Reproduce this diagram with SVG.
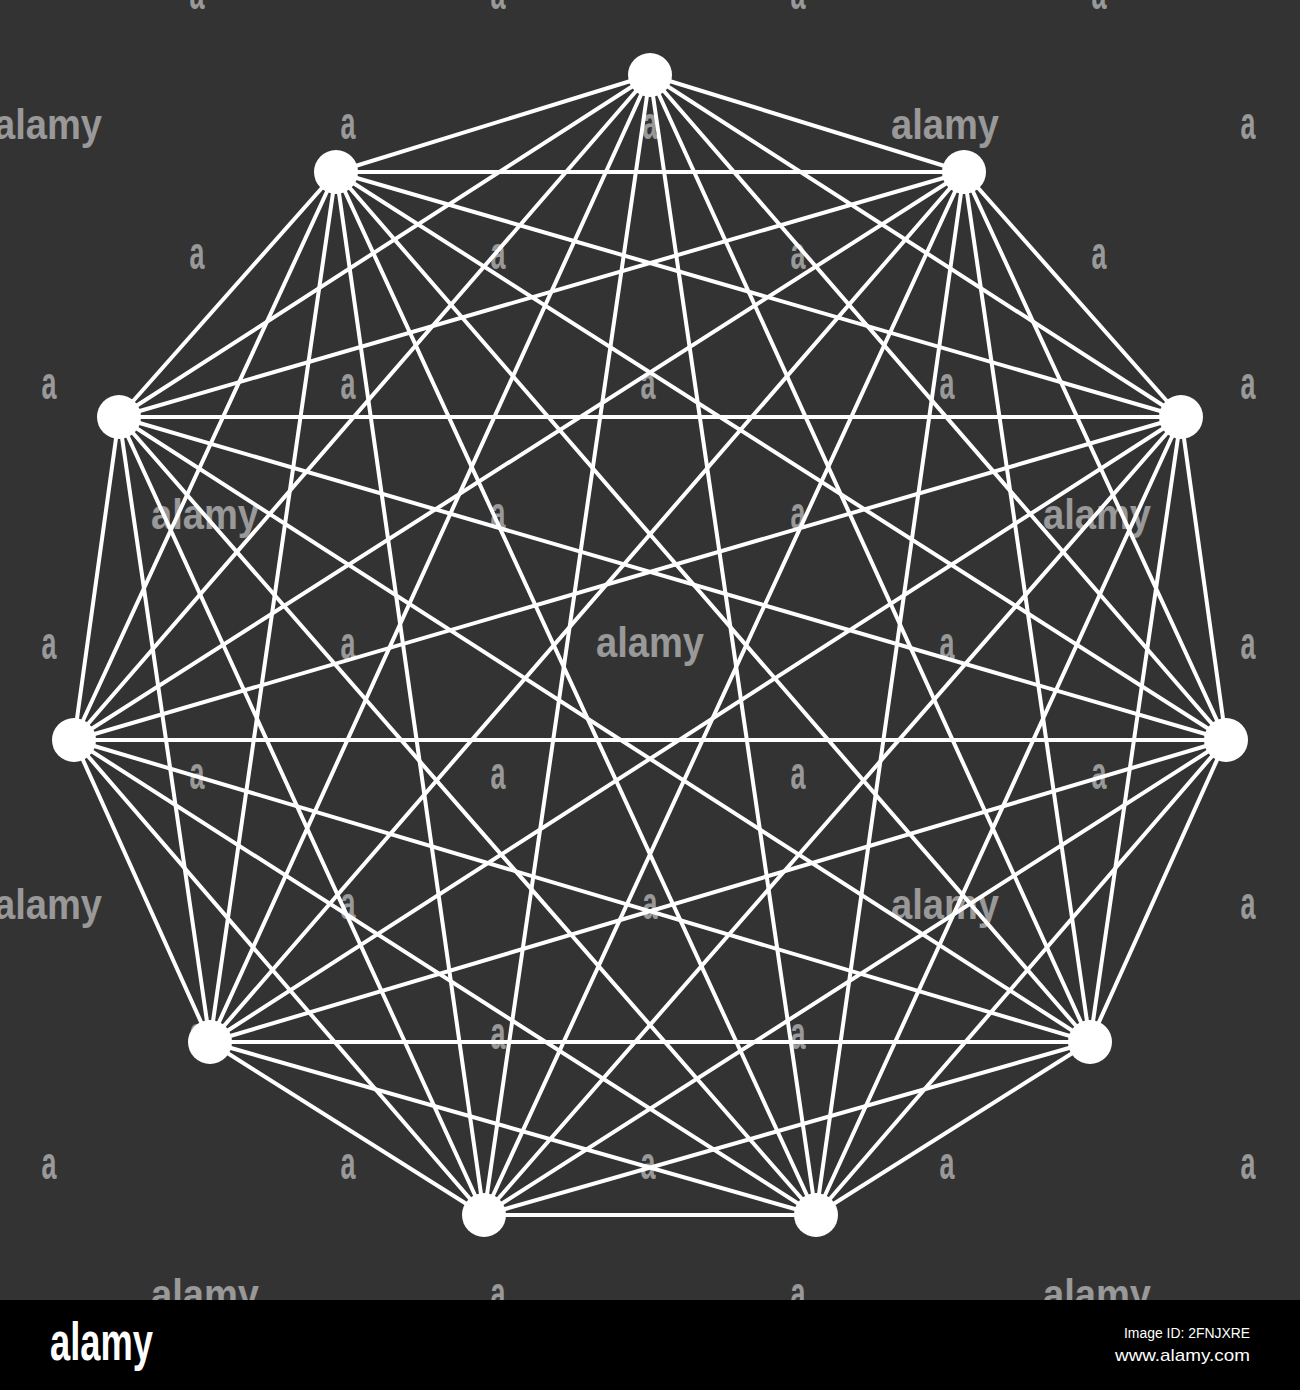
<svg xmlns="http://www.w3.org/2000/svg" width="1300" height="1390" viewBox="0 0 1300 1390">
<style>
.e{stroke:#fff;stroke-width:4;stroke-linecap:round}
.n{fill:#fff}
.w{fill:#fff;fill-opacity:.5;font-family:"Liberation Sans",Arial,sans-serif;font-weight:bold;text-anchor:middle}
.wa{font-size:46px}
.wl{font-size:42px}
.b{fill:#fff;font-family:"Liberation Sans",Arial,sans-serif}
</style>
<rect x="0" y="0" width="1300" height="1390" fill="#333333"/>
<g id="connectors">
<line class="e" x1="650" y1="75" x2="964" y2="172"/>
<line class="e" x1="650" y1="75" x2="1181" y2="417"/>
<line class="e" x1="650" y1="75" x2="1226" y2="740"/>
<line class="e" x1="650" y1="75" x2="1090" y2="1042"/>
<line class="e" x1="650" y1="75" x2="816" y2="1215"/>
<line class="e" x1="650" y1="75" x2="484" y2="1215"/>
<line class="e" x1="650" y1="75" x2="210" y2="1042"/>
<line class="e" x1="650" y1="75" x2="74" y2="740"/>
<line class="e" x1="650" y1="75" x2="119" y2="417"/>
<line class="e" x1="650" y1="75" x2="336" y2="172"/>
<line class="e" x1="964" y1="172" x2="1181" y2="417"/>
<line class="e" x1="964" y1="172" x2="1226" y2="740"/>
<line class="e" x1="964" y1="172" x2="1090" y2="1042"/>
<line class="e" x1="964" y1="172" x2="816" y2="1215"/>
<line class="e" x1="964" y1="172" x2="484" y2="1215"/>
<line class="e" x1="964" y1="172" x2="210" y2="1042"/>
<line class="e" x1="964" y1="172" x2="74" y2="740"/>
<line class="e" x1="964" y1="172" x2="119" y2="417"/>
<line class="e" x1="964" y1="172" x2="336" y2="172"/>
<line class="e" x1="1181" y1="417" x2="1226" y2="740"/>
<line class="e" x1="1181" y1="417" x2="1090" y2="1042"/>
<line class="e" x1="1181" y1="417" x2="816" y2="1215"/>
<line class="e" x1="1181" y1="417" x2="484" y2="1215"/>
<line class="e" x1="1181" y1="417" x2="210" y2="1042"/>
<line class="e" x1="1181" y1="417" x2="74" y2="740"/>
<line class="e" x1="1181" y1="417" x2="119" y2="417"/>
<line class="e" x1="1181" y1="417" x2="336" y2="172"/>
<line class="e" x1="1226" y1="740" x2="1090" y2="1042"/>
<line class="e" x1="1226" y1="740" x2="816" y2="1215"/>
<line class="e" x1="1226" y1="740" x2="484" y2="1215"/>
<line class="e" x1="1226" y1="740" x2="210" y2="1042"/>
<line class="e" x1="1226" y1="740" x2="74" y2="740"/>
<line class="e" x1="1226" y1="740" x2="119" y2="417"/>
<line class="e" x1="1226" y1="740" x2="336" y2="172"/>
<line class="e" x1="1090" y1="1042" x2="816" y2="1215"/>
<line class="e" x1="1090" y1="1042" x2="484" y2="1215"/>
<line class="e" x1="1090" y1="1042" x2="210" y2="1042"/>
<line class="e" x1="1090" y1="1042" x2="74" y2="740"/>
<line class="e" x1="1090" y1="1042" x2="119" y2="417"/>
<line class="e" x1="1090" y1="1042" x2="336" y2="172"/>
<line class="e" x1="816" y1="1215" x2="484" y2="1215"/>
<line class="e" x1="816" y1="1215" x2="210" y2="1042"/>
<line class="e" x1="816" y1="1215" x2="74" y2="740"/>
<line class="e" x1="816" y1="1215" x2="119" y2="417"/>
<line class="e" x1="816" y1="1215" x2="336" y2="172"/>
<line class="e" x1="484" y1="1215" x2="210" y2="1042"/>
<line class="e" x1="484" y1="1215" x2="74" y2="740"/>
<line class="e" x1="484" y1="1215" x2="119" y2="417"/>
<line class="e" x1="484" y1="1215" x2="336" y2="172"/>
<line class="e" x1="210" y1="1042" x2="74" y2="740"/>
<line class="e" x1="210" y1="1042" x2="119" y2="417"/>
<line class="e" x1="210" y1="1042" x2="336" y2="172"/>
<line class="e" x1="74" y1="740" x2="119" y2="417"/>
<line class="e" x1="74" y1="740" x2="336" y2="172"/>
<line class="e" x1="119" y1="417" x2="336" y2="172"/>
</g>
<g id="node0"><circle class="n" cx="650" cy="75" r="22"/></g>
<g id="node1"><circle class="n" cx="964" cy="172" r="22"/></g>
<g id="node2"><circle class="n" cx="1181" cy="417" r="22"/></g>
<g id="node3"><circle class="n" cx="1226" cy="740" r="22"/></g>
<g id="node4"><circle class="n" cx="1090" cy="1042" r="22"/></g>
<g id="node5"><circle class="n" cx="816" cy="1215" r="22"/></g>
<g id="node6"><circle class="n" cx="484" cy="1215" r="22"/></g>
<g id="node7"><circle class="n" cx="210" cy="1042" r="22"/></g>
<g id="node8"><circle class="n" cx="74" cy="740" r="22"/></g>
<g id="node9"><circle class="n" cx="119" cy="417" r="22"/></g>
<g id="node10"><circle class="n" cx="336" cy="172" r="22"/></g>
<g id="watermark" class="w">
<text class="wa" x="197" y="9" textLength="15" lengthAdjust="spacingAndGlyphs">a</text>
<text class="wa" x="498" y="9" textLength="15" lengthAdjust="spacingAndGlyphs">a</text>
<text class="wa" x="798" y="9" textLength="15" lengthAdjust="spacingAndGlyphs">a</text>
<text class="wa" x="1099" y="9" textLength="15" lengthAdjust="spacingAndGlyphs">a</text>
<text class="wl" x="48" y="139" textLength="108" lengthAdjust="spacingAndGlyphs">alamy</text>
<text class="wa" x="348" y="139" textLength="15" lengthAdjust="spacingAndGlyphs">a</text>
<text class="wa" x="650" y="139" textLength="15" lengthAdjust="spacingAndGlyphs">a</text>
<text class="wl" x="945" y="139" textLength="108" lengthAdjust="spacingAndGlyphs">alamy</text>
<text class="wa" x="1248" y="139" textLength="15" lengthAdjust="spacingAndGlyphs">a</text>
<text class="wa" x="197" y="269" textLength="15" lengthAdjust="spacingAndGlyphs">a</text>
<text class="wa" x="498" y="269" textLength="15" lengthAdjust="spacingAndGlyphs">a</text>
<text class="wa" x="798" y="269" textLength="15" lengthAdjust="spacingAndGlyphs">a</text>
<text class="wa" x="1099" y="269" textLength="15" lengthAdjust="spacingAndGlyphs">a</text>
<text class="wa" x="49" y="399" textLength="15" lengthAdjust="spacingAndGlyphs">a</text>
<text class="wa" x="348" y="399" textLength="15" lengthAdjust="spacingAndGlyphs">a</text>
<text class="wa" x="648" y="399" textLength="15" lengthAdjust="spacingAndGlyphs">a</text>
<text class="wa" x="947" y="399" textLength="15" lengthAdjust="spacingAndGlyphs">a</text>
<text class="wa" x="1248" y="399" textLength="15" lengthAdjust="spacingAndGlyphs">a</text>
<text class="wl" x="205" y="529" textLength="108" lengthAdjust="spacingAndGlyphs">alamy</text>
<text class="wa" x="498" y="529" textLength="15" lengthAdjust="spacingAndGlyphs">a</text>
<text class="wa" x="798" y="529" textLength="15" lengthAdjust="spacingAndGlyphs">a</text>
<text class="wl" x="1097" y="529" textLength="108" lengthAdjust="spacingAndGlyphs">alamy</text>
<text class="wa" x="49" y="659" textLength="15" lengthAdjust="spacingAndGlyphs">a</text>
<text class="wa" x="348" y="659" textLength="15" lengthAdjust="spacingAndGlyphs">a</text>
<text class="wl" x="650" y="657" textLength="108" lengthAdjust="spacingAndGlyphs">alamy</text>
<text class="wa" x="947" y="659" textLength="15" lengthAdjust="spacingAndGlyphs">a</text>
<text class="wa" x="1248" y="659" textLength="15" lengthAdjust="spacingAndGlyphs">a</text>
<text class="wa" x="197" y="789" textLength="15" lengthAdjust="spacingAndGlyphs">a</text>
<text class="wa" x="498" y="789" textLength="15" lengthAdjust="spacingAndGlyphs">a</text>
<text class="wa" x="798" y="789" textLength="15" lengthAdjust="spacingAndGlyphs">a</text>
<text class="wa" x="1099" y="789" textLength="15" lengthAdjust="spacingAndGlyphs">a</text>
<text class="wl" x="48" y="919" textLength="108" lengthAdjust="spacingAndGlyphs">alamy</text>
<text class="wa" x="348" y="919" textLength="15" lengthAdjust="spacingAndGlyphs">a</text>
<text class="wa" x="650" y="919" textLength="15" lengthAdjust="spacingAndGlyphs">a</text>
<text class="wl" x="945" y="919" textLength="108" lengthAdjust="spacingAndGlyphs">alamy</text>
<text class="wa" x="1248" y="919" textLength="15" lengthAdjust="spacingAndGlyphs">a</text>
<text class="wa" x="197" y="1049" textLength="15" lengthAdjust="spacingAndGlyphs">a</text>
<text class="wa" x="498" y="1049" textLength="15" lengthAdjust="spacingAndGlyphs">a</text>
<text class="wa" x="798" y="1049" textLength="15" lengthAdjust="spacingAndGlyphs">a</text>
<text class="wa" x="1099" y="1049" textLength="15" lengthAdjust="spacingAndGlyphs">a</text>
<text class="wa" x="49" y="1179" textLength="15" lengthAdjust="spacingAndGlyphs">a</text>
<text class="wa" x="348" y="1179" textLength="15" lengthAdjust="spacingAndGlyphs">a</text>
<text class="wa" x="648" y="1179" textLength="15" lengthAdjust="spacingAndGlyphs">a</text>
<text class="wa" x="947" y="1179" textLength="15" lengthAdjust="spacingAndGlyphs">a</text>
<text class="wa" x="1248" y="1179" textLength="15" lengthAdjust="spacingAndGlyphs">a</text>
<text class="wl" x="205" y="1309" textLength="108" lengthAdjust="spacingAndGlyphs">alamy</text>
<text class="wa" x="498" y="1309" textLength="15" lengthAdjust="spacingAndGlyphs">a</text>
<text class="wa" x="798" y="1309" textLength="15" lengthAdjust="spacingAndGlyphs">a</text>
<text class="wl" x="1097" y="1309" textLength="108" lengthAdjust="spacingAndGlyphs">alamy</text>
</g>
<g id="footer">
<rect x="0" y="1300" width="1300" height="90" fill="#000"/>
<text class="b" x="50" y="1360" font-size="54" font-weight="bold" textLength="103" lengthAdjust="spacingAndGlyphs">alamy</text>
<text class="b" x="1250" y="1338" font-size="14" text-anchor="end" textLength="126" lengthAdjust="spacingAndGlyphs">Image ID: 2FNJXRE</text>
<text class="b" x="1250" y="1361" font-size="17" text-anchor="end" textLength="135" lengthAdjust="spacingAndGlyphs">www.alamy.com</text>
</g>
</svg>
